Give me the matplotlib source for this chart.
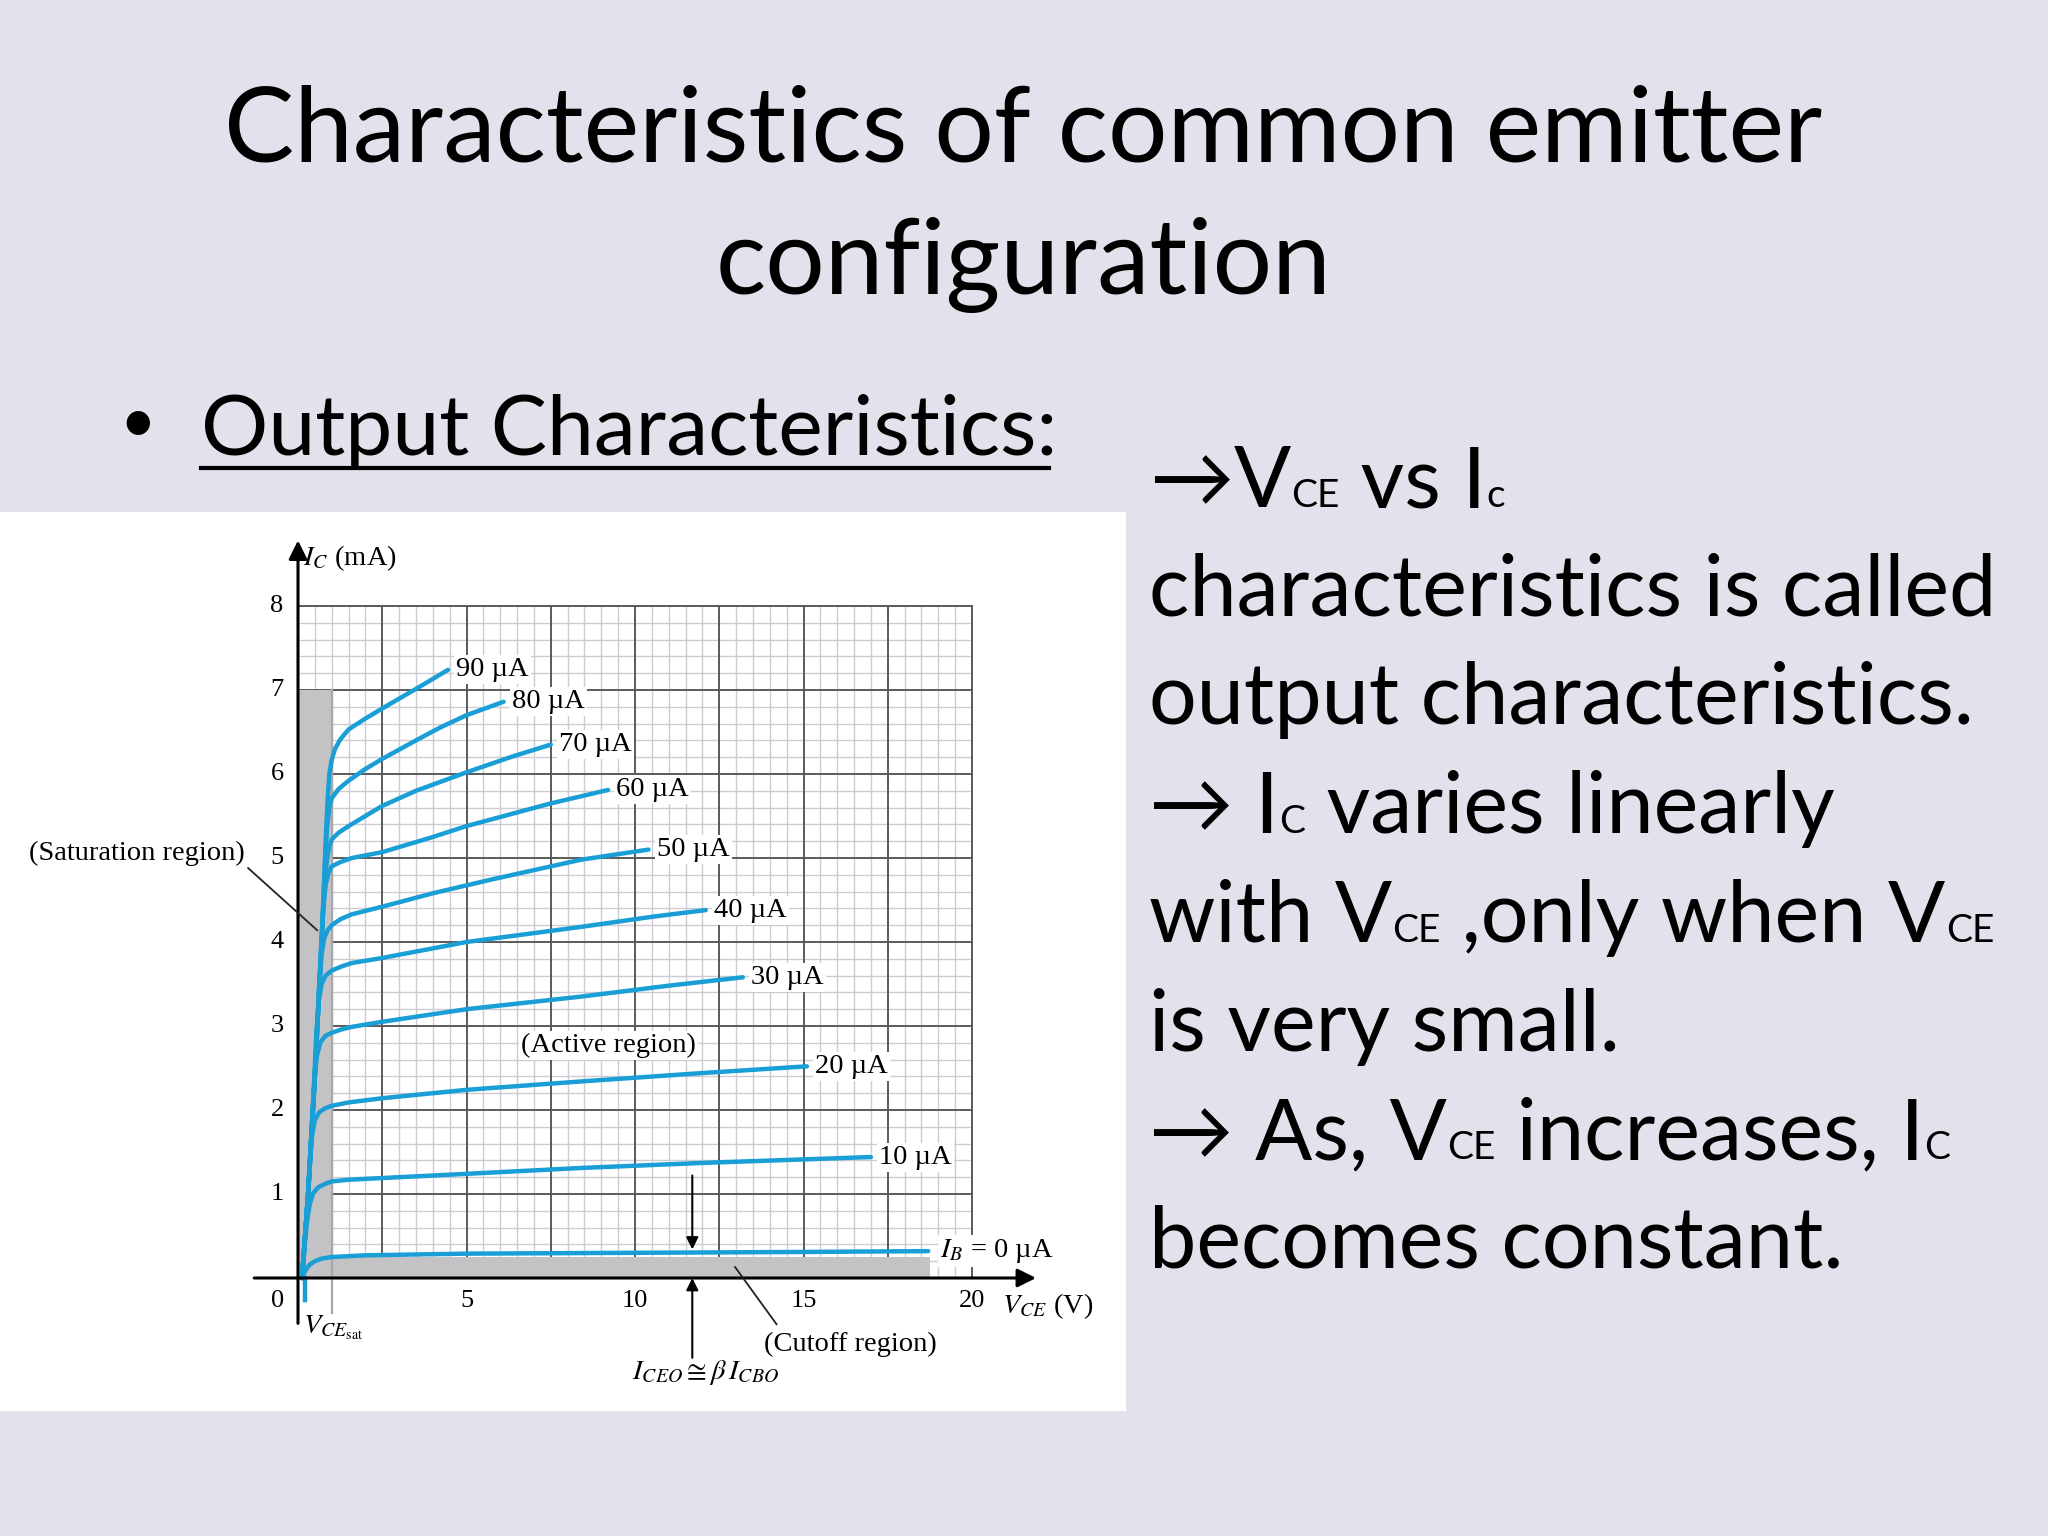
import matplotlib
matplotlib.use("Agg")
import matplotlib.pyplot as plt
from matplotlib.textpath import TextPath
from matplotlib.font_manager import FontProperties
import numpy as np

# ---------------- data ----------------
IB_LABELS = ["90 µA", "80 µA", "70 µA", "60 µA", "50 µA",
             "40 µA", "30 µA", "20 µA", "10 µA"]

VCE_90 = [0.12, 0.3, 0.5, 0.7, 0.82, 0.88, 0.93, 1.0, 1.1, 1.25, 1.5, 2.0, 2.5, 3.1, 3.7, 4.45]
IC_90  = [0.0, 1.0, 2.4, 4.0, 5.2, 5.7, 6.0, 6.17, 6.3, 6.41, 6.53, 6.66, 6.78, 6.92, 7.06, 7.24]
VCE_80 = [0.12, 0.3, 0.5, 0.7, 0.8, 0.86, 0.93, 1.0, 1.2, 1.5, 2.0, 2.5, 3.5, 4.2, 5.0, 6.1]
IC_80  = [0.0, 1.0, 2.4, 4.0, 4.9, 5.35, 5.6, 5.71, 5.82, 5.92, 6.06, 6.18, 6.4, 6.55, 6.7, 6.86]
VCE_70 = [0.12, 0.3, 0.5, 0.7, 0.78, 0.85, 0.93, 1.0, 1.2, 1.5, 2.0, 2.5, 3.5, 5.0, 6.3, 7.5]
IC_70  = [0.0, 1.0, 2.4, 4.0, 4.6, 4.95, 5.14, 5.22, 5.3, 5.38, 5.5, 5.62, 5.8, 6.02, 6.2, 6.35]
VCE_60 = [0.12, 0.3, 0.5, 0.68, 0.75, 0.82, 0.9, 1.0, 1.25, 1.6, 2.5, 4.0, 5.0, 7.5, 9.2]
IC_60  = [0.0, 1.0, 2.4, 3.9, 4.4, 4.68, 4.82, 4.9, 4.95, 5.0, 5.07, 5.25, 5.38, 5.65, 5.81]
VCE_50 = [0.12, 0.3, 0.5, 0.62, 0.7, 0.78, 0.88, 1.0, 1.25, 1.6, 2.5, 4.0, 5.7, 8.4, 10.4]
IC_50  = [0.0, 1.0, 2.4, 3.4, 3.85, 4.05, 4.14, 4.2, 4.27, 4.33, 4.42, 4.58, 4.74, 4.98, 5.1]
VCE_40 = [0.12, 0.3, 0.45, 0.55, 0.62, 0.7, 0.82, 1.0, 1.3, 1.6, 2.5, 5.0, 8.4, 10.5, 12.1]
IC_40  = [0.0, 1.0, 2.1, 2.95, 3.3, 3.5, 3.6, 3.66, 3.71, 3.75, 3.81, 4.0, 4.18, 4.3, 4.38]
VCE_30 = [0.12, 0.3, 0.42, 0.5, 0.57, 0.66, 0.8, 1.0, 1.3, 1.6, 2.5, 5.0, 8.4, 11.0, 13.2]
IC_30  = [0.0, 1.0, 1.9, 2.45, 2.66, 2.8, 2.88, 2.92, 2.96, 2.99, 3.05, 3.2, 3.35, 3.48, 3.58]
VCE_20 = [0.12, 0.28, 0.36, 0.42, 0.5, 0.62, 0.8, 1.0, 1.5, 2.5, 5.0, 8.4, 12.0, 15.1]
IC_20  = [0.0, 0.9, 1.4, 1.7, 1.88, 1.97, 2.02, 2.05, 2.09, 2.14, 2.24, 2.34, 2.44, 2.52]
VCE_10 = [0.12, 0.2, 0.27, 0.35, 0.45, 0.6, 0.8, 1.0, 1.5, 2.5, 5.0, 8.4, 12.0, 17.0]
IC_10  = [0.0, 0.4, 0.68, 0.88, 1.01, 1.08, 1.12, 1.15, 1.17, 1.19, 1.24, 1.31, 1.37, 1.44]
VCE_0  = [0.12, 0.18, 0.25, 0.35, 0.5, 0.7, 1.0, 2.0, 5.0, 10.0, 15.0, 18.7]
IC_0   = [0.0, 0.06, 0.11, 0.16, 0.2, 0.23, 0.25, 0.27, 0.29, 0.3, 0.31, 0.32]

CURVES_X = [VCE_90, VCE_80, VCE_70, VCE_60, VCE_50, VCE_40, VCE_30, VCE_20, VCE_10]
CURVES_Y = [IC_90, IC_80, IC_70, IC_60, IC_50, IC_40, IC_30, IC_20, IC_10]

X_TICKS = [5, 10, 15, 20]
Y_TICKS = [1, 2, 3, 4, 5, 6, 7, 8]

TITLE_LINES = ["Characteristics of common emitter", "configuration"]
BULLET_TEXT = "Output Characteristics:"

# ---------------- style ----------------
W, H, DPI = 2048, 1536, 100
BG = "#e3e1eb"
BLUE = "#1a9ed6"
GRAY_FILL = "#c3c3c5"
SANS = ["Lato", "DejaVu Sans"]
SERIF = "Liberation Serif"
plt.rcParams["mathtext.fontset"] = "stix"
TICK_FS = 19
LAB_FS = 20.5

fig = plt.figure(figsize=(W / DPI, H / DPI), dpi=DPI, facecolor=BG)


def fit_size(text, family, target_px):
    fp = FontProperties(family=family, size=100)
    w = TextPath((0, 0), text, prop=fp).get_extents().width
    return 100 * target_px / (w * DPI / 72.0)


def fx(px):
    return px / W


def fy(py):
    return 1 - py / H


# ---------------- title ----------------
tsize = fit_size(TITLE_LINES[0], SANS[0], 1593)
fig.text(fx(1023), fy(161), TITLE_LINES[0], ha="center", va="baseline",
         fontsize=tsize, family=SANS, color="black")
fig.text(fx(1023), fy(294), TITLE_LINES[1], ha="center", va="baseline",
         fontsize=tsize, family=SANS, color="black")

# ---------------- bullet ----------------
bsize = fit_size(BULLET_TEXT, SANS[0], 848)
fig.text(fx(138), fy(424), "•", ha="center", va="center", fontsize=bsize * 0.75,
         family=SANS, color="black")
fig.text(fx(201), fy(455), BULLET_TEXT, ha="left", va="baseline",
         fontsize=bsize, family=SANS, color="black")
fig.add_artist(plt.Line2D([fx(201), fx(1049)], [fy(468), fy(468)],
                          color="black", lw=3.0, transform=fig.transFigure))

# ---------------- right text with small subscripts ----------------
rsize = fit_size("characteristics is called", SANS[0], 838)
SUB = 0.46
RIGHT_LINES = [
    [("→", 1.0), ("V", 1.0), ("CE", SUB), (" vs I", 1.0), ("c", SUB)],
    [("characteristics is called", 1.0)],
    [("output characteristics.", 1.0)],
    [("→ I", 1.0), ("C", SUB), (" varies linearly", 1.0)],
    [("with V", 1.0), ("CE", SUB), (" ,only when V", 1.0), ("CE", SUB)],
    [("is very small.", 1.0)],
    [("→ As, V", 1.0), ("CE", SUB), (" increases, I", 1.0), ("C", SUB)],
    [("becomes constant.", 1.0)],
]
fig.canvas.draw()
renderer = fig.canvas.get_renderer()
base0, step = 507, 108.7
for i, runs in enumerate(RIGHT_LINES):
    x = 1149.0
    ybase = base0 + i * step
    for s, k in runs:
        t = fig.text(fx(x), fy(ybase), s, ha="left", va="baseline",
                     fontsize=rsize * k, family=SANS, color="black")
        bb = t.get_window_extent(renderer)
        x += bb.width

# ---------------- chart panel ----------------
ax = fig.add_axes([0, fy(1411), fx(1126), (1411 - 512) / H])
ax.set_facecolor("white")
for sp in ax.spines.values():
    sp.set_visible(False)
ax.set_xticks([])
ax.set_yticks([])
ax.set_xlim(-298 / 33.7, (1126 - 298) / 33.7)
ax.set_ylim((1278 - 1411) / 84.0, (1278 - 512) / 84.0)

# grid
for v in np.arange(0.5, 20.01, 0.5):
    major = abs(v / 2.5 - round(v / 2.5)) < 1e-6
    ax.plot([v, v], [0, 8], color="#5a5a5a" if major else "#cfcbd2",
            lw=1.4 if major else 1.0, zorder=2 if major else 1)
for v in np.arange(0.2, 8.01, 0.2):
    major = abs(v - round(v)) < 1e-6
    ax.plot([0, 20], [v, v], color="#5a5a5a" if major else "#cfcbd2",
            lw=1.4 if major else 1.0, zorder=2 if major else 1)

# regions
ax.fill_between([0, 1], 0, 7, color=GRAY_FILL, zorder=3, lw=0)
ax.fill_between([1, 18.75], 0, 0.25, color=GRAY_FILL, zorder=3, lw=0)
ax.plot([1, 1], [-0.42, 7], color="#a8a8aa", lw=1.6, zorder=3)

# axes with arrows
ax.annotate("", xy=(21.9, 0), xytext=(-1.3, 0),
            arrowprops=dict(arrowstyle="-|>", color="black", lw=2.2,
                            mutation_scale=28, shrinkA=0, shrinkB=0), zorder=6)
ax.annotate("", xy=(0, 8.78), xytext=(0, -0.54),
            arrowprops=dict(arrowstyle="-|>", color="black", lw=2.2,
                            mutation_scale=28, shrinkA=0, shrinkB=0), zorder=6)

# curves
for xs, ys in zip(CURVES_X, CURVES_Y):
    ax.plot(xs, ys, color=BLUE, lw=3.2, solid_capstyle="round",
            solid_joinstyle="round", zorder=5)
ax.plot(VCE_0, IC_0, color=BLUE, lw=3.2, solid_capstyle="round",
        solid_joinstyle="round", zorder=5)
ax.plot([0.2, 0.2], [-0.26, 0.0], color=BLUE, lw=3.2, zorder=5)

# curve labels
box = dict(facecolor="white", edgecolor="none", pad=1.5)
for xs, ys, lab in zip(CURVES_X, CURVES_Y, IB_LABELS):
    ax.text(xs[-1] + 0.25, ys[-1], lab, ha="left", va="center",
            fontsize=LAB_FS, family=SERIF, bbox=box, zorder=7)
ax.text(VCE_0[-1] + 0.35, IC_0[-1], r"$I_B$ = 0 µA", ha="left", va="center",
        fontsize=LAB_FS, family=SERIF, bbox=box, zorder=7)

# tick labels
for t in X_TICKS:
    ax.text(t, -0.27, str(t), ha="center", va="center", fontsize=TICK_FS,
            family=SERIF, zorder=7)
for t in Y_TICKS:
    ax.text(-0.62, t, str(t), ha="center", va="center", fontsize=TICK_FS,
            family=SERIF, zorder=7)
ax.text(-0.62, -0.27, "0", ha="center", va="center", fontsize=TICK_FS,
        family=SERIF, zorder=7)

# axis titles
ax.text(0.15, 8.57, r"$I_C$ (mA)", ha="left", va="center", fontsize=LAB_FS,
        family=SERIF, zorder=7)
ax.text(20.9, -0.33, r"$V_{CE}$ (V)", ha="left", va="center", fontsize=LAB_FS,
        family=SERIF, zorder=7)
ax.text(0.15, -0.6, r"$V_{CE_{\mathrm{sat}}}$", ha="left", va="center",
        fontsize=LAB_FS, family=SERIF, zorder=7)

# region annotations
ax.text(-7.98, 5.06, "(Saturation region)", ha="left", va="center",
        fontsize=LAB_FS, family=SERIF, zorder=7)
ax.plot([-1.48, 0.57], [4.88, 4.14], color="#222222", lw=1.3, zorder=7)
ax.text(9.22, 2.77, "(Active region)", ha="center", va="center",
        fontsize=LAB_FS, family=SERIF, bbox=box, zorder=7)
ax.text(16.4, -0.79, "(Cutoff region)", ha="center", va="center",
        fontsize=LAB_FS, family=SERIF, zorder=7)
ax.plot([12.97, 14.2], [0.13, -0.55], color="#222222", lw=1.3, zorder=7)

# I_CEO arrows
ax.annotate("", xy=(11.7, 0.34), xytext=(11.7, 1.22),
            arrowprops=dict(arrowstyle="-|>", color="black", lw=1.5,
                            mutation_scale=18, shrinkA=0, shrinkB=0), zorder=7)
ax.annotate("", xy=(11.7, 0.0), xytext=(11.7, -0.95),
            arrowprops=dict(arrowstyle="-|>", color="black", lw=1.5,
                            mutation_scale=18, shrinkA=0, shrinkB=0), zorder=7)
ax.text(12.1, -1.12, r"$I_{CEO} \cong \beta\, I_{CBO}$", ha="center",
        va="center", fontsize=LAB_FS, family=SERIF, zorder=7)

fig.savefig("out.png", dpi=DPI, facecolor=BG)
